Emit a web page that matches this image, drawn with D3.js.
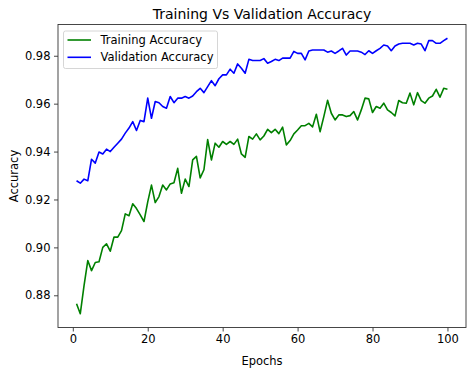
<!DOCTYPE html>
<html>
<head>
<meta charset="utf-8">
<script src="https://cdn.jsdelivr.net/npm/d3@7"></script>
<style>
  body { margin: 0; background: #fff; }
  text { font-family: "DejaVu Sans", sans-serif; fill: #000; }
</style>
</head>
<body>
<div id="chart"></div>
<script>
// accuracy per epoch
let trainAcc = [
  0.8765, 0.8723, 0.884, 0.8945, 0.8903, 0.8937, 0.894, 0.900, 0.9015, 0.8984,
  0.9043, 0.9043, 0.907, 0.914, 0.9132, 0.9182, 0.9162, 0.9136, 0.9108, 0.919,
  0.926, 0.9187, 0.9212, 0.926, 0.924, 0.9265, 0.927, 0.933, 0.9226, 0.9285,
  0.9254, 0.9365, 0.938, 0.929, 0.9324, 0.945, 0.9365, 0.9435, 0.9418, 0.9442,
  0.943, 0.9442, 0.943, 0.9452, 0.939, 0.9376, 0.9463, 0.9452, 0.9474, 0.9449,
  0.9465, 0.9493, 0.9479, 0.9493, 0.9475, 0.9502, 0.9428, 0.9446, 0.9474, 0.949,
  0.9508, 0.9508, 0.9518, 0.9503, 0.9556, 0.9483, 0.9546, 0.9614, 0.956, 0.9532,
  0.9553, 0.9553, 0.9546, 0.955, 0.9567, 0.9532, 0.9574, 0.9623, 0.962, 0.9563,
  0.9588, 0.9581, 0.9602, 0.9574, 0.9563, 0.9549, 0.9613, 0.9604, 0.9602, 0.9644,
  0.9595, 0.9646, 0.9613, 0.9602, 0.9623, 0.9632, 0.966, 0.9627, 0.9664, 0.966
];
let valAcc = [
  0.9278, 0.9268, 0.9285, 0.9278, 0.9368, 0.9352, 0.9398, 0.939, 0.941, 0.940,
  0.9418, 0.9435, 0.9452, 0.9477, 0.9498, 0.9525, 0.9488, 0.953, 0.9525, 0.9623,
  0.9539, 0.9609, 0.9604, 0.9588, 0.9581, 0.963, 0.9604, 0.9623, 0.9623, 0.963,
  0.9623, 0.9632, 0.965, 0.9664, 0.9646, 0.9671, 0.9696, 0.9675, 0.9704, 0.972,
  0.972, 0.9744, 0.9727, 0.9766, 0.9748, 0.9727, 0.9785, 0.978, 0.978, 0.978,
  0.9788, 0.9769, 0.9776, 0.9785, 0.978, 0.979, 0.979, 0.979, 0.9818, 0.981,
  0.981, 0.9783, 0.982, 0.9824, 0.9824, 0.9824, 0.9824, 0.9815, 0.982, 0.981,
  0.982, 0.9831, 0.9803, 0.982, 0.982, 0.982, 0.9815, 0.9805, 0.9821, 0.981,
  0.9821, 0.9831, 0.9845, 0.9841, 0.9821, 0.9841, 0.9849, 0.9852, 0.9852, 0.9852,
  0.9845, 0.9852, 0.9849, 0.9821, 0.9863, 0.9863, 0.9852, 0.9852, 0.9863, 0.9873
];
let epochs = d3.range(1, trainAcc.length + 1);

let seriesNames = ["Training Accuracy", "Validation Accuracy"];
let seriesColors = ["green", "blue"];
let xTicks = [0, 20, 40, 60, 80, 100];
let yTicks = [0.88, 0.90, 0.92, 0.94, 0.96, 0.98];

////////////////////////////////////////////////////////////////////////

let width = 474;
let height = 372;
let plotLeft = 58, plotRight = 466, plotTop = 24.5, plotBottom = 327.5;
let fontSize = "11.5px";

let svg = d3.select("#chart")
  .append("svg")
  .attr("width", width).attr("height", height);

// matplotlib style 5% margins around the data
function padded(ext) {
  let m = (ext[1] - ext[0]) * 0.05;
  return [ext[0] - m, ext[1] + m];
}

let xScale = d3.scaleLinear()
  .domain(padded(d3.extent(epochs)))
  .range([plotLeft, plotRight]);

let yScale = d3.scaleLinear()
  .domain(padded(d3.extent(trainAcc.concat(valAcc))))
  .range([plotBottom, plotTop]);

// axes
let xAxis = d3.axisBottom(xScale).tickValues(xTicks).tickSize(4).tickPadding(3.5)
  .tickFormat(d3.format("d"));
let yAxis = d3.axisLeft(yScale).tickValues(yTicks).tickSize(4).tickPadding(3.5)
  .tickFormat(d3.format(".2f"));

svg.append("g")
  .attr("transform", "translate(0," + plotBottom + ")")
  .call(xAxis)
  .call(g => g.select(".domain").remove())
  .selectAll("text").style("font-size", fontSize).attr("fill", "#222");

svg.append("g")
  .attr("transform", "translate(" + plotLeft + ",0)")
  .call(yAxis)
  .call(g => g.select(".domain").remove())
  .selectAll("text").style("font-size", fontSize).attr("fill", "#222");

svg.selectAll(".tick line").attr("stroke", "#333").attr("stroke-width", 0.9);

// lines
let line = d3.line()
  .x((d, i) => xScale(epochs[i]))
  .y(d => yScale(d));

[trainAcc, valAcc].forEach(function(series, k) {
  svg.append("path")
    .datum(series)
    .attr("fill", "none")
    .attr("stroke", seriesColors[k])
    .attr("stroke-width", 1.6)
    .attr("stroke-linejoin", "round")
    .attr("d", line);
});

// frame
svg.append("rect")
  .attr("x", plotLeft).attr("y", plotTop)
  .attr("width", plotRight - plotLeft).attr("height", plotBottom - plotTop)
  .attr("fill", "none").attr("stroke", "#333").attr("stroke-width", 0.9);

// title and axis labels
svg.append("text")
  .attr("x", (plotLeft + plotRight) / 2).attr("y", 19)
  .attr("text-anchor", "middle")
  .style("font-size", "14px")
  .text("Training Vs Validation Accuracy");

svg.append("text")
  .attr("x", (plotLeft + plotRight) / 2).attr("y", 364.5)
  .attr("text-anchor", "middle")
  .style("font-size", fontSize)
  .text("Epochs");

svg.append("text")
  .attr("transform", "translate(17.5," + (plotTop + plotBottom) / 2 + ") rotate(-90)")
  .attr("text-anchor", "middle")
  .style("font-size", fontSize)
  .text("Accuracy");

// legend
let legend = svg.append("g").attr("transform", "translate(63.5,31)");
legend.append("rect")
  .attr("width", 154).attr("height", 37.5).attr("rx", 2)
  .attr("fill", "#fff").attr("fill-opacity", 0.8)
  .attr("stroke", "#ccc").attr("stroke-width", 0.8);

seriesNames.forEach(function(name, k) {
  let y = 9 + k * 17.3;
  legend.append("line")
    .attr("x1", 4).attr("x2", 27.5).attr("y1", y).attr("y2", y)
    .attr("stroke", seriesColors[k]).attr("stroke-width", 1.6);
  legend.append("text")
    .attr("x", 37).attr("y", y + 4)
    .style("font-size", fontSize)
    .text(name);
});
</script>
</body>
</html>
